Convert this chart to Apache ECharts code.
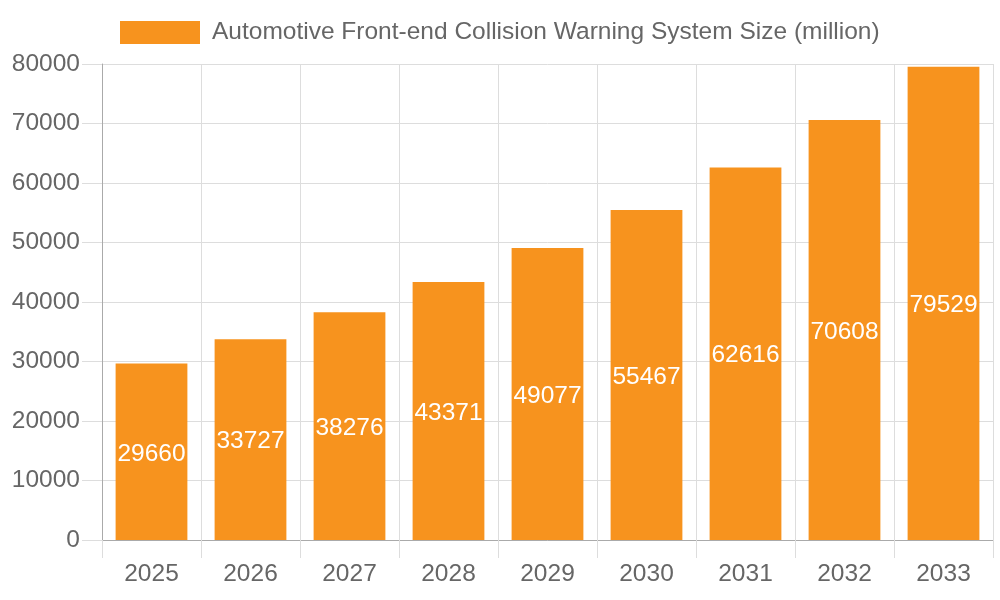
<!DOCTYPE html>
<html>
<head>
<meta charset="utf-8">
<script src="https://cdn.jsdelivr.net/npm/echarts@6/dist/echarts.min.js"></script>
<style>html,body{margin:0;padding:0;background:#fff}#c{width:1000px;height:600px}</style>
</head>
<body>
<div id="c"></div>
<script>
const seriesName = 'Automotive Front-end Collision Warning System Size (million)';
const categories = ['2025','2026','2027','2028','2029','2030','2031','2032','2033'];
const values = [29660, 33727, 38276, 43371, 49077, 55467, 62616, 70608, 79529];
const yTicks = [0, 10000, 20000, 30000, 40000, 50000, 60000, 70000, 80000];

const chart = echarts.init(document.getElementById('c'), null, {renderer: 'canvas'});
const font = 'Liberation Sans, Arial, sans-serif';
const fs = 24.5;
chart.setOption({
  animation: false,
  backgroundColor: '#fff',
  legend: {
    top: 15,
    left: 115,
    itemWidth: 80,
    itemHeight: 23,
    itemGap: 12,
    textStyle: {fontFamily: font, fontSize: fs, color: '#666', padding: [2, 0, 0, 7]},
    data: [{name: seriesName, icon: 'rect'}]
  },
  grid: {left: 102, right: 7, top: 64, bottom: 60, containLabel: false},
  xAxis: {
    type: 'category',
    data: categories,
    boundaryGap: true,
    axisLine: {show: true, lineStyle: {color: '#aaa', width: 1}},
    axisTick: {show: true, length: 18, alignWithLabel: false, lineStyle: {color: '#ddd'}},
    splitLine: {show: true, lineStyle: {color: '#ddd', width: 1}},
    axisLabel: {fontFamily: font, fontSize: fs, color: '#666', margin: 22}
  },
  yAxis: {
    type: 'value',
    min: yTicks[0],
    max: yTicks[yTicks.length - 1],
    interval: yTicks[1] - yTicks[0],
    axisLine: {show: true, lineStyle: {color: '#aaa', width: 1}},
    axisTick: {show: true, length: 20, lineStyle: {color: '#ddd'}},
    splitLine: {show: true, lineStyle: {color: '#ddd', width: 1}},
    axisLabel: {fontFamily: font, fontSize: fs, color: '#666', margin: 22, padding: [3, 0, 0, 0], formatter: v => String(v)}
  },
  series: [{
    name: seriesName,
    type: 'bar',
    data: values,
    barCategoryGap: '27.5%',
    itemStyle: {color: '#F7931E'},
    label: {
      show: true,
      position: 'inside',
      offset: [0, 2],
      color: '#fff',
      fontFamily: font,
      fontSize: fs
    }
  }]
});
</script>
</body>
</html>
